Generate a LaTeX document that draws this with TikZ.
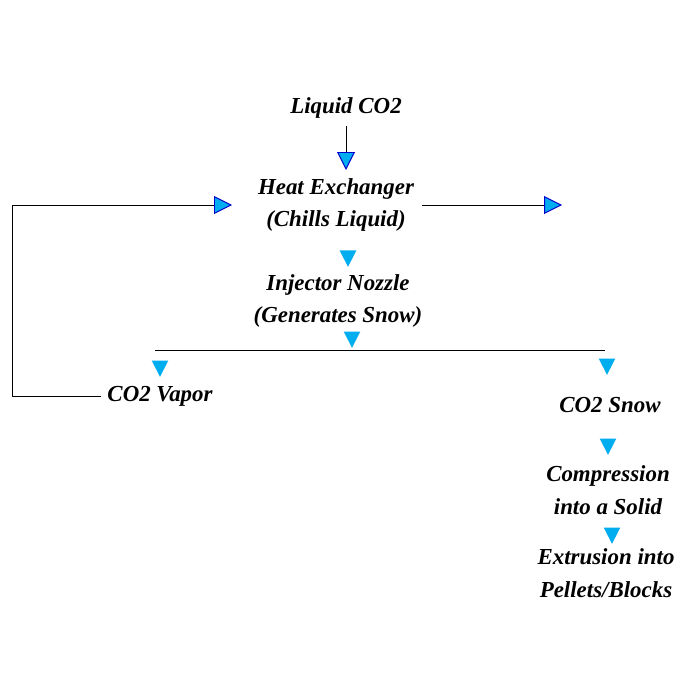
\documentclass[tikz,border=0pt]{standalone}
\usepackage{fontspec}
\setmainfont{Liberation Serif}
\usetikzlibrary{arrows.meta}
\tikzset{
  lbl/.style={align=center, font=\fontsize{23}{33}\selectfont\bfseries\itshape, inner sep=0pt},
  tri/.style={-{Triangle[length=18bp,width=18bp,fill=cyan,color=blue!80!black,line width=1pt]}, line width=1pt},
  stub/.style={-{Triangle[length=18bp,width=18bp,fill=cyan,color=blue!80!black,line width=1pt]}, line width=0pt, draw opacity=0},
}
\begin{document}
\begin{tikzpicture}[x=1bp,y=-1bp]
\useasboundingbox (0,0) rectangle (700,700);
\node[lbl] (liquid) at (346,108) {Liquid CO2};
\node[lbl] (hx) at (336,205) {Heat Exchanger\\(Chills Liquid)};
\node[lbl] (nozzle) at (338,301) {Injector Nozzle\\(Generates Snow)};
\node[lbl] (vapor) at (160,396) {CO2 Vapor};
\node[lbl] (snow) at (610,405) {CO2 Snow};
\node[lbl] (comp) at (608,490) {Compression\\into a Solid};
\node[lbl] (extr) at (606,573) {Extrusion into\\Pellets/Blocks};
% arrows
\coordinate (c1) at (346,170);
\coordinate (c2) at (232,205);
\coordinate (c3) at (562,205);
\coordinate (c4) at (348,251);
\coordinate (c5) at (348,268);
\coordinate (sl) at (155,350);
\coordinate (sr) at (605,350);
\coordinate (t1) at (352,331);
\coordinate (t2) at (160,359);
\coordinate (t3) at (607,357);
\coordinate (t4) at (608,437);
\coordinate (t5) at (612,526);
\draw[tri] (346,126) -- (c1);
\draw[tri] ([xshift=-6bp]vapor.west) -- (12,396) -- (12,205) -- (c2);
\draw[tri] ([xshift=8bp]hx.east |- c3) -- (c3);
\draw[stub] (c4) -- (c5);
\draw[line width=1pt] (sl) -- (sr);
\draw[stub] (t1) -- ++(0,18);
\draw[stub] (t2) -- ++(0,19);
\draw[stub] (t3) -- ++(0,19);
\draw[stub] (t4) -- ++(0,19);
\draw[stub] (t5) -- ++(0,19);
\end{tikzpicture}
\end{document}
